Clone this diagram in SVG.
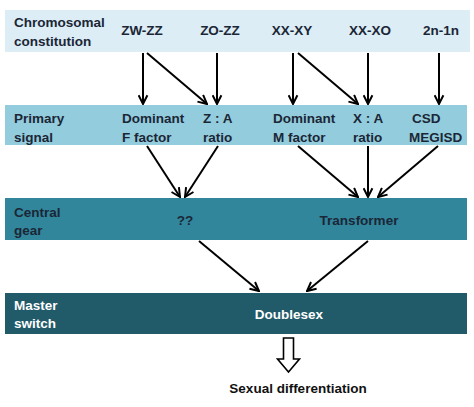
<svg xmlns="http://www.w3.org/2000/svg" width="474" height="407" viewBox="0 0 474 407">
<style>
text{font-family:"Liberation Sans",Arial,sans-serif;font-size:13.5px;font-weight:bold;fill:#1b2636}
.w{fill:#ffffff}
.c{text-anchor:middle}
.ln{stroke:#000;stroke-width:2;fill:none;marker-end:url(#ah)}
</style>
<defs>
<marker id="ah" viewBox="0 0 10 10" refX="9" refY="5" markerWidth="5.5" markerHeight="5.5" orient="auto" markerUnits="strokeWidth">
<path d="M1,1 L9,5 L1,9" fill="none" stroke="#000" stroke-width="1.8"/>
</marker>
</defs>
<rect width="474" height="407" fill="#fff"/>
<g id="band1">
<rect x="5" y="10" width="465" height="42" fill="#dcedf5"/>
<text x="14" y="27">Chromosomal</text>
<text x="14" y="46">constitution</text>
<text class="c" x="142" y="35">ZW-ZZ</text>
<text class="c" x="220" y="35">ZO-ZZ</text>
<text class="c" x="292" y="35">XX-XY</text>
<text class="c" x="370" y="35">XX-XO</text>
<text class="c" x="441" y="35">2n-1n</text>
</g>
<g id="band2">
<rect x="5" y="105" width="462" height="40" fill="#93cddd"/>
<text x="14" y="123">Primary</text>
<text x="14" y="142">signal</text>
<text x="122" y="123">Dominant</text>
<text x="122" y="142">F factor</text>
<text x="203" y="123">Z : A</text>
<text x="203" y="142">ratio</text>
<text x="273" y="123">Dominant</text>
<text x="273" y="142">M factor</text>
<text x="353" y="123">X : A</text>
<text x="353" y="142">ratio</text>
<text x="412" y="123">CSD</text>
<text x="409" y="142">MEGISD</text>
</g>
<g id="band3">
<rect x="5" y="198" width="462" height="42" fill="#31869c"/>
<text x="14" y="217">Central</text>
<text x="14" y="235">gear</text>
<text class="c" x="185" y="225">??</text>
<text class="c" x="359" y="225">Transformer</text>
</g>
<g id="band4">
<rect x="5" y="293" width="462" height="41" fill="#215a69"/>
<text class="w" x="14" y="310">Master</text>
<text class="w" x="14" y="328">switch</text>
<text class="w c" x="289" y="319">Doublesex</text>
</g>
<g id="output">
<path d="M283.5,338 h10 v21 h6 l-11,13 l-11,-13 h6 z" fill="#fff" stroke="#000" stroke-width="1.6" stroke-linejoin="miter"/>
<text class="c" x="298" y="393" style="fill:#111">Sexual differentiation</text>
</g>
<g id="connectors">
<line class="ln" x1="143" y1="53" x2="143" y2="104"/>
<line class="ln" x1="147" y1="53" x2="207" y2="104"/>
<line class="ln" x1="217" y1="53" x2="217" y2="104"/>
<line class="ln" x1="293" y1="53" x2="293" y2="104"/>
<line class="ln" x1="298" y1="53" x2="358" y2="104"/>
<line class="ln" x1="368" y1="53" x2="368" y2="104"/>
<line class="ln" x1="439" y1="53" x2="439" y2="104"/>
<line class="ln" x1="147" y1="146" x2="180" y2="197"/>
<line class="ln" x1="218" y1="146" x2="185" y2="197"/>
<line class="ln" x1="298" y1="146" x2="358" y2="197"/>
<line class="ln" x1="368" y1="146" x2="368" y2="197"/>
<line class="ln" x1="438" y1="146" x2="378" y2="197"/>
<line class="ln" x1="199" y1="241" x2="259" y2="291"/>
<line class="ln" x1="368" y1="241" x2="307" y2="291"/>
</g>
</svg>
